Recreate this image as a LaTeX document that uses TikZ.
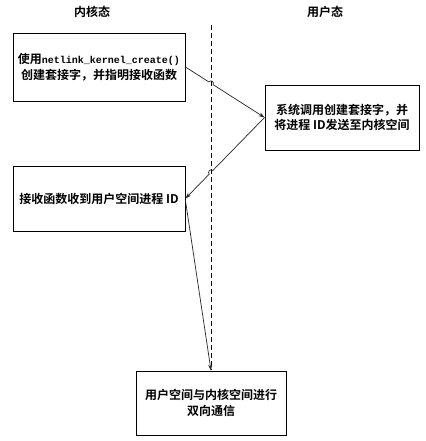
\documentclass[tikz,border=0pt]{standalone}
\usepackage{fontspec}
\newfontfamily\cjk{Noto Sans CJK SC}[BoldFont={Noto Sans CJK SC Bold}]
\newfontfamily\mono{Liberation Mono}
\usetikzlibrary{arrows.meta,calc,intersections}
\begin{document}
\begin{tikzpicture}[x=1pt,y=-1pt,
  box/.style={draw=black,line width=0.9pt,fill=white,align=center,inner sep=0pt,
    font=\cjk\bfseries\fontsize{12}{15.5}\selectfont},
  title/.style={font=\cjk\bfseries\fontsize{12}{14}\selectfont,inner sep=0pt},
  conn/.style={draw=black!85,line width=0.7pt,-{Stealth[length=6pt,width=4pt]}},
  divider/.style={draw=black,line width=0.9pt,dash pattern=on 5pt off 3pt}]
\useasboundingbox[fill=white] (0,0) rectangle (425,441);
% titles
\node[title] (t1) at (92,12) {内核态};
\node[title] (t2) at (325,12) {用户态};
% divider
\coordinate (dtop) at (211,25);
\coordinate (dbot) at (211,370);
\draw[divider,name path=dl] (dtop) -- (dbot);
% boxes
\node[box,minimum width=172pt,minimum height=68pt] (b1) at (99,67)
  {使用{\mono\bfseries\fontsize{10}{12}\selectfont netlink\_kernel\_create()}\\创建套接字，并指明接收函数};
\node[box,minimum width=154pt,minimum height=65pt] (b2) at (342,117.5)
  {系统调用创建套接字，并\\将进程 ID发送至内核空间};
\node[box,minimum width=172pt,minimum height=65pt] (b3) at (99,198.5)
  {接收函数收到用户空间进程 ID};
\node[box,minimum width=150pt,minimum height=64pt] (b4) at (211,403)
  {用户空间与内核空间进行\\双向通信};
% connectors with line jumps over the divider
\path[name path=l1] (b1.east) -- (b2.west);
\path[name intersections={of=l1 and dl,by=x1}];
\draw[conn] (b1.east) -- ($(x1)!2.5pt!(b1.east)$) to[bend left=90,looseness=1.6] ($(x1)!2.5pt!(b2.west)$) -- (b2.west);
\path[name path=l2] (b2.west) -- (b3.east);
\path[name intersections={of=l2 and dl,by=x2}];
\draw[conn] (b2.west) -- ($(x2)!2.5pt!(b2.west)$) to[bend right=90,looseness=1.6] ($(x2)!2.5pt!(b3.east)$) -- (b3.east);
\draw[conn] ([yshift=-2pt]b3.east) -- (b4.north);
\end{tikzpicture}
\end{document}
